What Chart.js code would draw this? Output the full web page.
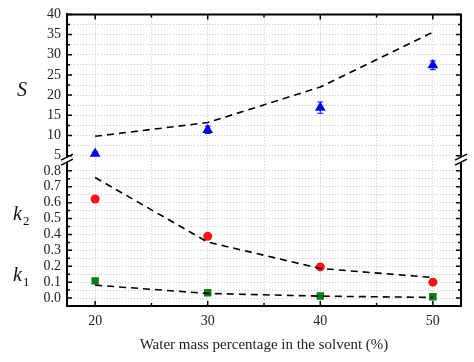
<!DOCTYPE html>
<html><head><meta charset="utf-8">
<script src="https://cdn.jsdelivr.net/npm/chart.js"></script>
<style>html,body{margin:0;padding:0;background:#fff}#wrap{width:474px;height:362px;position:relative}</style>
</head><body><div id="wrap"><canvas id="c" width="474" height="362"></canvas></div>
<script>
// ---- data ----
const waterPct = [20, 30, 40, 50];
const sValues  = [5.5, 11.4, 16.9, 27.4];
const sErrors  = [0.4, 0.9, 1.4, 1.1];
const sFit     = [9.8, 13.2, 22.0, 35.6];
const k2Values = [0.623, 0.388, 0.196, 0.100];
const k2Fit    = [0.758, 0.352, 0.186, 0.129];
const k1Values = [0.108, 0.034, 0.013, 0.008];
const k1Fit    = [0.081, 0.029, 0.012, 0.004];

const xTicks  = [20, 25, 30, 35, 40, 45, 50];
const xLabels = [20, 30, 40, 50];
const sTicks  = [5, 7.5, 10, 12.5, 15, 17.5, 20, 22.5, 25, 27.5, 30, 32.5, 35, 37.5, 40];
const sLabels = [5, 10, 15, 20, 25, 30, 35, 40];
const kTicks  = [0, 0.05, 0.1, 0.15, 0.2, 0.25, 0.3, 0.35, 0.4, 0.45, 0.5, 0.55, 0.6, 0.65, 0.7, 0.75, 0.8];
const kLabels = [0, 0.1, 0.2, 0.3, 0.4, 0.5, 0.6, 0.7, 0.8];
const xTitle = 'Water mass percentage in the solvent (%)';

const pts = (ys) => waterPct.map((x, i) => ({x, y: ys[i]}));
const isLabel = (arr, v) => arr.some(a => Math.abs(a - v) < 1e-9);
const SERIF = '"Liberation Serif", "DejaVu Serif", serif';
const gridOpts = {color: '#c4c4c4', lineWidth: 1, drawTicks: false};
const borderOpts = {display: true, color: '#000', width: 2, dash: [1, 2]};

const decor = {
  id: 'decor',
  beforeDatasetsDraw(chart) {
    const ctx = chart.ctx, xs = chart.scales.x, ys = chart.scales.yS;
    ctx.save();
    ctx.strokeStyle = '#0000ee'; ctx.lineWidth = 1;
    waterPct.forEach((x, i) => {
      const px = xs.getPixelForValue(x);
      const t = ys.getPixelForValue(sValues[i] + sErrors[i]);
      const b = ys.getPixelForValue(sValues[i] - sErrors[i]);
      ctx.beginPath();
      ctx.moveTo(px, t); ctx.lineTo(px, b);
      ctx.moveTo(px - 3, t); ctx.lineTo(px + 3, t);
      ctx.moveTo(px - 3, b); ctx.lineTo(px + 3, b);
      ctx.stroke();
    });
    ctx.restore();
  },
  afterDraw(chart) {
    const ctx = chart.ctx, a = chart.chartArea;
    const xs = chart.scales.x, yS = chart.scales.yS, yK = chart.scales.yK;
    ctx.save();
    ctx.strokeStyle = '#000';
    // frame top & right
    ctx.lineWidth = 2;
    ctx.beginPath();
    ctx.moveTo(a.left - 1, a.top); ctx.lineTo(a.right, a.top); ctx.lineTo(a.right, a.bottom + 1);
    ctx.stroke();
    // tick marks (inward on all sides)
    ctx.lineWidth = 1.5;
    ctx.beginPath();
    xTicks.forEach(v => {
      const p = xs.getPixelForValue(v), L = isLabel(xLabels, v) ? 5 : 3;
      ctx.moveTo(p, a.bottom); ctx.lineTo(p, a.bottom - L);
      ctx.moveTo(p, a.top); ctx.lineTo(p, a.top + L);
    });
    const yt = (sc, ticks, labels) => ticks.forEach(v => {
      const p = sc.getPixelForValue(v), L = isLabel(labels, v) ? 5 : 3;
      ctx.moveTo(a.left, p); ctx.lineTo(a.left + L, p);
      ctx.moveTo(a.right, p); ctx.lineTo(a.right - L, p);
    });
    yt(yS, sTicks, sLabels); yt(yK, kTicks, kLabels);
    ctx.stroke();
    // axis break marks
    const by = yS.bottom;
    [a.left, a.right].forEach(x => {
      ctx.fillStyle = '#fff';
      ctx.fillRect(x - 2, by - 2.5, 4, 5);
      ctx.lineWidth = 1.5;
      ctx.beginPath();
      [-2.5, 2.5].forEach(o => {
        ctx.moveTo(x - 6, by + o + 3); ctx.lineTo(x + 6, by + o - 3);
      });
      ctx.stroke();
    });
    // axis symbols
    ctx.fillStyle = '#111';
    ctx.textAlign = 'left'; ctx.textBaseline = 'alphabetic';
    ctx.font = 'italic 20px ' + SERIF;
    ctx.fillText('S', 17, yS.getPixelForValue(19.8));
    const sym = (sub, val) => {
      const y = yK.getPixelForValue(val);
      ctx.font = 'italic 20px ' + SERIF;
      ctx.fillText('k', 13, y);
      ctx.font = '13px ' + SERIF;
      ctx.fillText(sub, 23, y + 5);
    };
    sym('2', 0.49); sym('1', 0.11);
    ctx.restore();
  }
};

new Chart(document.getElementById('c'), {
  type: 'scatter',
  data: {
    datasets: [
      {type: 'line', data: pts(sFit), yAxisID: 'yS', borderColor: '#000', borderWidth: 1.6, borderDash: [7, 5], pointRadius: 0, fill: false, tension: 0},
      {type: 'line', data: pts(k2Fit), yAxisID: 'yK', borderColor: '#000', borderWidth: 1.6, borderDash: [7, 5], pointRadius: 0, fill: false, tension: 0},
      {type: 'line', data: pts(k1Fit), yAxisID: 'yK', borderColor: '#000', borderWidth: 1.6, borderDash: [7, 5], pointRadius: 0, fill: false, tension: 0},
      {data: pts(sValues), yAxisID: 'yS', pointStyle: 'triangle', pointRadius: 6.2, backgroundColor: '#0000ee', borderColor: '#0000ee', borderWidth: 0},
      {data: pts(k2Values), yAxisID: 'yK', pointStyle: 'circle', pointRadius: 4.5, backgroundColor: '#ff1010', borderColor: '#ff1010', borderWidth: 0},
      {data: pts(k1Values), yAxisID: 'yK', pointStyle: 'rect', pointRadius: 5.3, backgroundColor: '#0c7c14', borderColor: '#0c7c14', borderWidth: 0}
    ]
  },
  options: {
    responsive: false, animation: false, devicePixelRatio: 1,
    layout: {padding: {top: 13, right: 13, left: 0, bottom: 0}},
    plugins: {legend: {display: false}, tooltip: {enabled: false}},
    scales: {
      x: {
        type: 'linear', min: 17.5, max: 52.5, position: 'bottom',
        afterBuildTicks: s => { s.ticks = xTicks.map(v => ({value: v})); },
        afterFit: s => { s.height = 56; },
        grid: gridOpts, border: borderOpts,
        ticks: {autoSkip: false, maxRotation: 0, padding: 7, color: '#222', font: {family: SERIF, size: 14},
          callback: v => isLabel(xLabels, v) ? String(v) : ''},
        title: {display: true, text: xTitle, color: '#222', font: {family: SERIF, size: 15}, padding: {top: 0, bottom: 8}}
      },
      yK: {
        type: 'linear', position: 'left', stack: 'y', stackWeight: 147, min: -0.05, max: 0.87,
        afterBuildTicks: s => { s.ticks = kTicks.map(v => ({value: v})); },
        afterFit: s => { s.width = 67; },
        grid: gridOpts, border: borderOpts,
        ticks: {autoSkip: false, padding: 6, color: '#222', font: {family: SERIF, size: 14},
          callback: v => isLabel(kLabels, v) ? v.toFixed(1) : ''}
      },
      yS: {
        type: 'linear', position: 'left', stack: 'y', stackWeight: 146, min: 4, max: 40,
        afterBuildTicks: s => { s.ticks = sTicks.map(v => ({value: v})); },
        afterFit: s => { s.width = 67; },
        grid: gridOpts, border: borderOpts,
        ticks: {autoSkip: false, padding: 6, color: '#222', font: {family: SERIF, size: 14},
          callback: v => isLabel(sLabels, v) ? String(v) : ''}
      }
    }
  },
  plugins: [decor]
});
</script></body></html>
